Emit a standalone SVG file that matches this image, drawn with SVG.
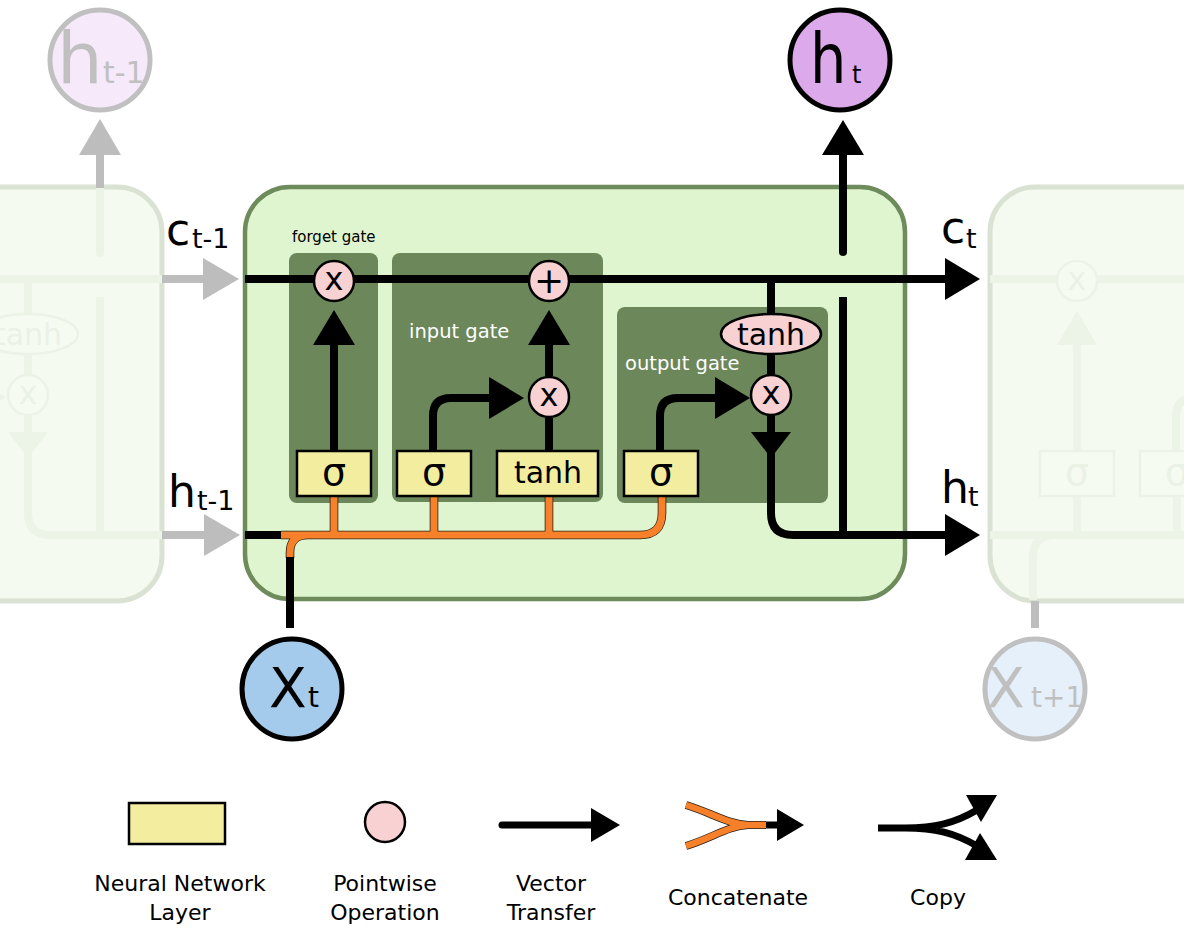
<svg xmlns="http://www.w3.org/2000/svg" width="1184" height="950" viewBox="0 0 1184 950">
<defs>
<style>
text{font-family:"DejaVu Sans","Liberation Sans",sans-serif}
.blk{fill:none;stroke:#000;stroke-width:8}
.gry{fill:none;stroke:#bdbdbd;stroke-width:8}
.fl{fill:none;stroke:#ecf3e7;stroke-width:8}
.org{fill:none;stroke:#f7812a;stroke-width:7}
.orgu{fill:none;stroke:#2b2118;stroke-width:8.6}
.gate{fill:#6c8759}
.layer{fill:#f3ee9f;stroke:#000;stroke-width:2.5}
.pw{fill:#f8d1d2;stroke:#000;stroke-width:2.5}
.fnode{fill:#f6fbf2;stroke:#ebf2e6;stroke-width:2.5}
.ftxt{fill:#eaf1e5}
.op{font-size:32px;text-anchor:middle}
.sig{font-size:38px;text-anchor:middle}
.tanh{font-size:30px;text-anchor:middle}
.lbl{font-size:44px}
.sub{font-size:27px}
.leg{font-size:22px;text-anchor:middle}
</style>
<marker id="ah" markerUnits="userSpaceOnUse" markerWidth="36" markerHeight="42" refX="0" refY="21" orient="auto"><path d="M0,0 L35,21 L0,42 z" fill="#000"/></marker>
<marker id="ahg" markerUnits="userSpaceOnUse" markerWidth="37" markerHeight="42" refX="0" refY="21" orient="auto"><path d="M0,0 L36,21 L0,42 z" fill="#bdbdbd"/></marker>
<marker id="ahs" markerUnits="userSpaceOnUse" markerWidth="30" markerHeight="34" refX="0" refY="17" orient="auto"><path d="M0,0 L29,17 L0,34 z" fill="#000"/></marker>
<marker id="ahc" markerUnits="userSpaceOnUse" markerWidth="28" markerHeight="32" refX="0" refY="16" orient="auto"><path d="M0,0 L27,16 L0,32 z" fill="#000"/></marker>
</defs>
<rect x="0" y="0" width="1184" height="950" fill="#fff"/>

<!-- previous (faded) cell -->
<g id="cell-prev">
<rect x="-500" y="187" width="662" height="414" rx="45" fill="#f4faef" stroke="#dae2d4" stroke-width="5"/>
<path class="fl" d="M-10,279 H162"/>
<path class="fl" d="M28,279 V314 M28,354 V374"/>
<path class="fl" d="M28,416 V513 Q28,535 50,535 H162"/>
<path class="fl" d="M100,535 V297"/>
<path class="fl" d="M100,187 V253" stroke-linecap="round"/>
<polygon points="8,432 48,432 28,458" fill="#ecf3e7"/>
<polygon points="-28,378 6,397 -28,416" fill="#ecf3e7"/>
<ellipse class="fnode" cx="28" cy="334" rx="50" ry="20"/>
<text class="tanh ftxt" x="28" y="345">tanh</text>
<circle class="fnode" cx="28" cy="395" r="20"/>
<text class="op ftxt" x="28" y="404">x</text>
</g>

<!-- next (faded) cell -->
<g id="cell-next">
<rect x="990" y="187" width="662" height="414" rx="45" fill="#f4faef" stroke="#dae2d4" stroke-width="5"/>
<path class="fl" d="M990,279 H1190"/>
<path class="fl" d="M1077,451 V345"/>
<polygon points="1057,345 1097,345 1077,311" fill="#ecf3e7"/>
<path class="fl" d="M1176,451 V416 Q1176,398 1194,398 H1240"/>
<path class="fl" d="M990,535 H1190 M1077,497 V535 M1177,497 V535"/>
<path class="fl" d="M1033,600 V557 Q1033,535 1055,535"/>
<circle class="fnode" cx="1077" cy="281" r="20"/>
<text class="op ftxt" x="1077" y="290">x</text>
<rect class="fnode" x="1040" y="451" width="74" height="45"/>
<text class="sig ftxt" x="1077" y="485">σ</text>
<rect class="fnode" x="1140" y="451" width="74" height="45"/>
<text class="sig ftxt" x="1177" y="485">σ</text>
</g>

<!-- main cell -->
<g id="cell">
<rect x="245" y="187" width="660" height="412" rx="45" fill="#dff5cf" stroke="#6e8b5b" stroke-width="4.5"/>
<rect class="gate" x="289" y="253" width="89" height="250" rx="8"/>
<rect class="gate" x="392" y="253" width="211" height="249" rx="8"/>
<rect class="gate" x="617" y="307" width="211" height="196" rx="8"/>
<text x="292" y="242" font-size="15" fill="#000">forget gate</text>
<text x="409" y="338" font-size="19.5" fill="#fff">input gate</text>
<text x="625" y="370" font-size="19.5" fill="#fff">output gate</text>
</g>

<!-- connectors -->
<g id="connectors">
<path class="gry" d="M162,279 H203" marker-end="url(#ahg)"/>
<path class="gry" d="M162,535 H204" marker-end="url(#ahg)"/>
<path class="gry" d="M100,188 V155" marker-end="url(#ahg)"/>
<path class="gry" d="M1035,601 V628"/>
<path class="blk" d="M245,279 H945" marker-end="url(#ah)"/>
<path class="blk" d="M334,451 V345" marker-end="url(#ah)"/>
<path class="blk" d="M433,451 V416 Q433,398 451,398 H489" marker-end="url(#ah)"/>
<path class="blk" d="M549,451 V418"/>
<path class="blk" d="M549,376 V345" marker-end="url(#ah)"/>
<path class="blk" d="M660,451 V416 Q660,398 678,398 H715" marker-end="url(#ah)"/>
<path class="blk" d="M771,279 V314 M771,354 V374"/>
<path class="blk" d="M771,416 V513 Q771,535 793,535 H945" marker-end="url(#ah)"/>
<polygon points="751,432 791,432 771,458" fill="#000"/>
<path class="blk" d="M843,535 V297"/>
<path class="blk" d="M843,252 V155" stroke-linecap="round" marker-end="url(#ah)"/>
<path class="blk" d="M245,535 H282"/>
<path class="orgu" d="M281,535 H640 Q662,535 662,513 V497 M334,497 V535 M434,497 V535 M549,497 V535 M290,558 V553 Q290,535 308,535"/>
<path class="blk" d="M290,556 V628"/>
<path class="org" d="M281,535 H640 Q662,535 662,513 V497 M334,497 V535 M434,497 V535 M549,497 V535 M290,557 V553 Q290,535 308,535"/>
</g>

<!-- pointwise operations -->
<g id="op-forget"><circle class="pw" cx="334" cy="281" r="20"/><text class="op" x="334" y="290">x</text></g>
<g id="op-add"><circle class="pw" cx="549" cy="281" r="20"/><text x="549" y="293" font-size="36" text-anchor="middle">+</text></g>
<g id="op-input"><circle class="pw" cx="549" cy="397" r="20"/><text class="op" x="549" y="406">x</text></g>
<g id="op-tanh"><ellipse class="pw" cx="771" cy="334" rx="50" ry="20"/><text class="tanh" x="771" y="345">tanh</text></g>
<g id="op-output"><circle class="pw" cx="771" cy="395" r="20"/><text class="op" x="771" y="404">x</text></g>

<!-- neural network layers -->
<g id="layer-forget"><rect class="layer" x="297" y="451" width="74" height="45"/><text class="sig" x="334" y="485">σ</text></g>
<g id="layer-input"><rect class="layer" x="397" y="451" width="74" height="45"/><text class="sig" x="434" y="485">σ</text></g>
<g id="layer-tanh"><rect class="layer" x="497" y="451" width="101" height="45"/><text class="tanh" x="548" y="483">tanh</text></g>
<g id="layer-output"><rect class="layer" x="624" y="451" width="74" height="45"/><text class="sig" x="661" y="485">σ</text></g>

<!-- inputs / outputs -->
<g id="h-prev-out"><circle cx="100" cy="60" r="50" fill="#f5e9fa" stroke="#c0c0c0" stroke-width="5"/><text x="57" y="83" font-size="72" fill="#c0c0c0">h</text><text x="103" y="83" font-size="30" fill="#c0c0c0">t-1</text></g>
<g id="h-t-out"><circle cx="840" cy="60" r="50" fill="#dcaaea" stroke="#000" stroke-width="5"/><text transform="translate(810,83) scale(0.82,1)" font-size="70">h</text><text x="852" y="83" font-size="24">t</text></g>
<g id="x-t"><circle cx="292" cy="689" r="50" fill="#a4cbec" stroke="#000" stroke-width="5"/><text x="269" y="707" font-size="55">X</text><text x="308" y="707" font-size="28">t</text></g>
<g id="x-next"><circle cx="1035" cy="689" r="50" fill="#e6f0fa" stroke="#c0c0c0" stroke-width="5"/><text x="987" y="707" font-size="55" fill="#c0c0c0">X</text><text x="1031" y="707" font-size="28" fill="#c0c0c0">t+1</text></g>

<!-- state labels -->
<g id="label-c-prev"><text class="lbl" x="166" y="245">c</text><text class="sub" x="192" y="248">t-1</text></g>
<g id="label-h-prev"><text class="lbl" x="168" y="507">h</text><text class="sub" x="197" y="510">t-1</text></g>
<g id="label-c-t"><text class="lbl" x="941" y="243">c</text><text class="sub" x="966" y="248">t</text></g>
<g id="label-h-t"><text class="lbl" x="941" y="503">h</text><text class="sub" x="968" y="506">t</text></g>

<!-- legend -->
<g id="legend-layer"><rect class="layer" x="129" y="803" width="96" height="41" stroke-width="3"/><text class="leg" x="180" y="891">Neural Network</text><text class="leg" x="180" y="920">Layer</text></g>
<g id="legend-pointwise"><circle class="pw" cx="385" cy="822" r="20"/><text class="leg" x="385" y="891">Pointwise</text><text class="leg" x="385" y="920">Operation</text></g>
<g id="legend-vector"><path d="M502,825 H591" stroke="#000" stroke-width="7" stroke-linecap="round" fill="none" marker-end="url(#ahs)"/><text class="leg" x="551" y="891">Vector</text><text class="leg" x="551" y="920">Transfer</text></g>
<g id="legend-concat">
<path d="M686,805 C712,813 728,824 748,825 H766 M686,846 C712,838 728,826 748,825" fill="none" stroke="#2b2118" stroke-width="8"/>
<path d="M765,825 H777" fill="none" stroke="#000" stroke-width="7" marker-end="url(#ahc)"/>
<path d="M686,805 C712,813 728,824 748,825 H766 M686,846 C712,838 728,826 748,825" fill="none" stroke="#f7812a" stroke-width="6.5"/>
<text class="leg" x="738" y="905">Concatenate</text>
</g>
<g id="legend-copy">
<path d="M878,828 H905 C935,828 955,823 977,810 M905,828 C935,828 955,833 977,846" fill="none" stroke="#000" stroke-width="7"/>
<polygon points="966,795 997,795 981,822" fill="#000"/>
<polygon points="965,860 997,860 980,833" fill="#000"/>
<text class="leg" x="938" y="905">Copy</text>
</g>
</svg>
